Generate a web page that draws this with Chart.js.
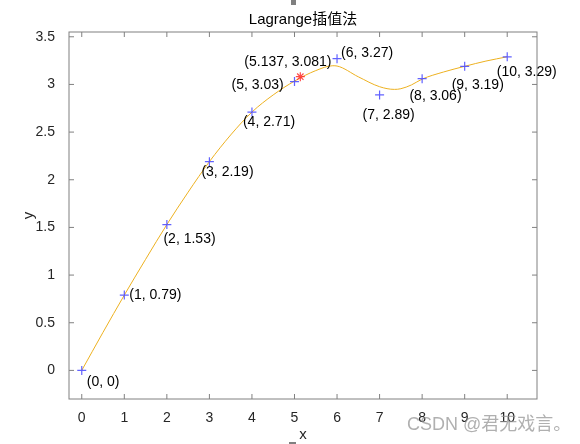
<!DOCTYPE html>
<html>
<head>
<meta charset="utf-8">
<script src="https://cdn.jsdelivr.net/npm/chart.js@4.4.0/dist/chart.umd.min.js"></script>
<style>
  html, body { margin: 0; padding: 0; background: #fff; }
</style>
</head>
<body>
<canvas id="chart" width="580" height="444"></canvas>
<script>
'use strict';

// measured points (blue crosses)
let ptX = [0, 1, 2, 3, 4, 5, 6, 7, 8, 9, 10];
let ptY = [0, 0.79, 1.53, 2.19, 2.71, 3.03, 3.27, 2.89, 3.06, 3.19, 3.29];

// interpolated point (red star)
let starX = [5.137];
let starY = [3.081];

// orange curve, values
let curveX = [0, 0.5, 1, 1.5, 2, 2.5, 3, 3.5, 4, 4.5, 5, 5.5, 5.9, 6, 6.5, 7, 7.35, 7.5, 7.75, 8, 8.5, 9, 9.5, 10];
let curveY = [0, 0.40, 0.79, 1.165, 1.53, 1.87, 2.19, 2.47, 2.71, 2.89, 3.035, 3.145, 3.196, 3.193, 3.08, 2.976, 2.948, 2.955, 2.995, 3.056, 3.13, 3.19, 3.245, 3.29];

// tick labels
let xTicks = [0, 1, 2, 3, 4, 5, 6, 7, 8, 9, 10];
let yTicks = [0, 0.5, 1, 1.5, 2, 2.5, 3, 3.5];

const FONT = "'Liberation Sans', Arial, 'Noto Sans CJK SC', sans-serif";
const AXIS_GRAY = '#808080';

function toXY(xs, ys) {
  return xs.map((v, i) => ({x: v, y: ys[i]}));
}

// label offsets in px from the point (left edge of text, vertical middle)
const labelOffsets = [
  [5, 11.6], [5, 0], [-3.4, 14.3], [-8, 10], [-9, 9.6], [-63, 3.5],
  [4, -6], [-17, 20], [-12.7, 17], [-13, 18.7], [-10.4, 15.6]
];
const starOffset = [-56, -15];

// box, inward ticks, point labels and the watermark
const matlabAxes = {
  id: 'matlabAxes',
  afterDraw(chart) {
    const {ctx, chartArea: a, scales: {x, y}} = chart;
    ctx.save();
    ctx.strokeStyle = AXIS_GRAY;
    ctx.lineWidth = 1;
    ctx.strokeRect(a.left, a.top, a.right - a.left, a.bottom - a.top);

    ctx.beginPath();
    xTicks.forEach(v => {
      const px = x.getPixelForValue(v);
      ctx.moveTo(px, a.bottom); ctx.lineTo(px, a.bottom - 5);
      ctx.moveTo(px, a.top); ctx.lineTo(px, a.top + 5);
    });
    yTicks.forEach(v => {
      const py = y.getPixelForValue(v);
      ctx.moveTo(a.left, py); ctx.lineTo(a.left + 5, py);
      ctx.moveTo(a.right, py); ctx.lineTo(a.right - 5, py);
    });
    ctx.stroke();

    // labels next to each point
    ctx.font = '14px ' + FONT;
    ctx.fillStyle = '#000';
    ctx.textAlign = 'left';
    ctx.textBaseline = 'middle';
    for (let i = 0; i < ptX.length; i++) {
      const px = x.getPixelForValue(ptX[i]);
      const py = y.getPixelForValue(ptY[i]);
      ctx.fillText(`(${ptX[i]}, ${ptY[i]})`, px + labelOffsets[i][0], py + labelOffsets[i][1]);
    }
    const sx = x.getPixelForValue(starX[0]);
    const sy = y.getPixelForValue(starY[0]);
    ctx.fillText(`(${starX[0]}, ${starY[0]})`, sx + starOffset[0], sy + starOffset[1]);

    // little gray bits from the screenshot
    ctx.fillStyle = AXIS_GRAY;
    ctx.fillRect(291, 0, 5, 5);
    ctx.fillRect(289, 442, 7, 2);

    // watermark
    ctx.font = '18px ' + FONT;
    ctx.fillStyle = 'rgba(150,150,150,0.75)';
    ctx.fillText('CSDN @君无戏言。', 407, 425);
    ctx.restore();
  }
};

Chart.defaults.font.family = FONT;
Chart.defaults.color = '#262626';

const myChart = new Chart(document.getElementById('chart'), {
  type: 'scatter',
  data: {
    datasets: [
      {
        label: 'points',
        data: toXY(ptX, ptY),
        pointStyle: 'cross',
        pointRadius: 4.5,
        pointHoverRadius: 4.5,
        borderColor: 'rgba(70,70,255,0.85)',
        borderWidth: 1.2,
      },
      {
        label: 'star',
        data: toXY(starX, starY),
        pointStyle: 'star',
        pointRadius: 4.5,
        pointHoverRadius: 4.5,
        borderColor: 'rgba(255,40,40,0.85)',
        backgroundColor: 'rgba(255,40,40,0.85)',
        borderWidth: 1.2,
      },
      {
        label: 'curve',
        data: toXY(curveX, curveY),
        showLine: true,
        pointRadius: 0,
        pointHoverRadius: 0,
        borderColor: '#EDB120',
        borderWidth: 1,
        cubicInterpolationMode: 'monotone',
      },
    ],
  },
  options: {
    responsive: false,
    animation: false,
    events: [],
    layout: {padding: {left: 0, right: 43, top: 0, bottom: 0}},
    plugins: {
      legend: {display: false},
      tooltip: {enabled: false},
      title: {
        display: true,
        text: 'Lagrange插值法',
        fullSize: false,
        color: '#000',
        font: {size: 15, weight: 'normal', family: FONT},
        padding: {top: 11, bottom: 3},
      },
    },
    scales: {
      x: {
        type: 'linear',
        min: -0.3,
        max: 10.7,
        grid: {display: false},
        border: {display: false},
        afterBuildTicks: s => { s.ticks = xTicks.map(v => ({value: v})); },
        afterFit: s => { s.height = 45; },
        ticks: {
          autoSkip: false,
          maxRotation: 0,
          padding: 3,
          font: {size: 14},
          callback: v => String(v),
        },
        title: {
          display: true,
          text: 'x',
          color: '#262626',
          font: {size: 15},
          padding: {top: 0, bottom: 0},
        },
      },
      y: {
        type: 'linear',
        min: -0.3,
        max: 3.55,
        grid: {display: false},
        border: {display: false},
        afterBuildTicks: s => { s.ticks = yTicks.map(v => ({value: v})); },
        afterFit: s => { s.width = 69; },
        ticks: {
          autoSkip: false,
          padding: 6,
          font: {size: 14},
          callback: v => String(v),
        },
        title: {
          display: true,
          text: 'y',
          color: '#262626',
          font: {size: 15},
          padding: {top: 20, bottom: 0},
        },
      },
    },
  },
  plugins: [matlabAxes],
});
</script>
</body>
</html>
